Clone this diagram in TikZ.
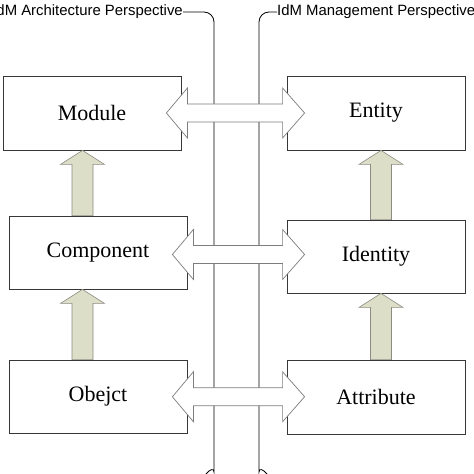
\documentclass[tikz,border=0pt]{standalone}
\usepackage{fontspec}
\setmainfont{Liberation Serif}
\newfontfamily\persfont{Liberation Sans}
\usepackage{tikz}
\usetikzlibrary{positioning}
\usetikzlibrary{calc}

\definecolor{riserfill}{RGB}{220,222,200}
\definecolor{riserline}{RGB}{140,140,130}
\definecolor{pairline}{RGB}{125,125,125}
\definecolor{boxline}{RGB}{55,55,55}

\begin{document}
\begin{tikzpicture}[x=1pt,y=1pt,
    idmbox/.style={draw=boxline,line width=0.8pt,fill=white,minimum width=178pt,minimum height=73pt,inner sep=0pt,font=\fontsize{22}{24}\selectfont},
    perslabel/.style={inner sep=0pt,font=\persfont\fontsize{14.9}{16}\selectfont},
    divider/.style={line width=0.8pt,black},
    riserarrow/.style={draw=riserline,line width=0.6pt,fill=riserfill,line join=miter},
    pairarrow/.style={draw=pairline,line width=0.7pt,fill=white,line join=miter}]
            \useasboundingbox (0,0) rectangle (474,474);
            % Perspective labels and dividers
            \node[perslabel,anchor=east] (archlbl) at (183,462) {IdM Architecture Perspective};
            \node[perslabel,anchor=west] (mgmtlbl) at (277,462) {IdM Management Perspective};
            \draw[divider] (archlbl.east) [rounded corners=10pt] -- (214,462) -- (214,12) [sharp corners] .. controls (214,6) and (210,5) .. (206,0);
            \draw[divider] (mgmtlbl.west) [rounded corners=10pt] -- (259,462) -- (259,12) [sharp corners] .. controls (259,6) and (263,5) .. (267,0);
            % Architecture side
            \node[idmbox,minimum height=74pt] (module) at (92,361) {Module};
            \node[idmbox] (component) at (98,221.5) {Component};
            \node[idmbox] (obejct) at (98,77.5) {Obejct};
            % Management side
            \node[idmbox,minimum height=74pt] (entity) at (376,361) {Entity};
            \node[idmbox] (identity) at (376,217.5) {Identity};
            \node[idmbox,minimum height=74pt] (attribute) at (376,77) {Attribute};
            % Upward arrows
            \foreach \lo/\up/\ax in {component/module/82.5, obejct/component/82.5, identity/entity/381, attribute/identity/381}
                \draw[riserarrow] let \p1=(\lo.north), \p2=(\up.south) in
                    (\ax pt-10.5pt,\y1) -- (\ax pt-10.5pt,\y2-14pt) -- (\ax pt-22pt,\y2-14pt) -- (\ax pt,\y2)
                    -- (\ax pt+22pt,\y2-14pt) -- (\ax pt+10.5pt,\y2-14pt) -- (\ax pt+10.5pt,\y1) -- cycle;
            % Double arrows between perspectives
            \foreach \l/\r in {module/entity, component/identity, obejct/attribute}
                \draw[pairarrow] let \p1=(\l.east), \p2=(\r.west), \n1={(\y1+\y2)/2} in
                    (\x1-15pt,\n1) -- (\x1+6pt,\n1+25pt) -- (\x1+6pt,\n1+9pt) -- (\x2-4pt,\n1+9pt)
                    -- (\x2-4pt,\n1+25pt) -- (\x2+18pt,\n1) -- (\x2-4pt,\n1-25pt) -- (\x2-4pt,\n1-9pt)
                    -- (\x1+6pt,\n1-9pt) -- (\x1+6pt,\n1-25pt) -- cycle;
\end{tikzpicture}
\end{document}
